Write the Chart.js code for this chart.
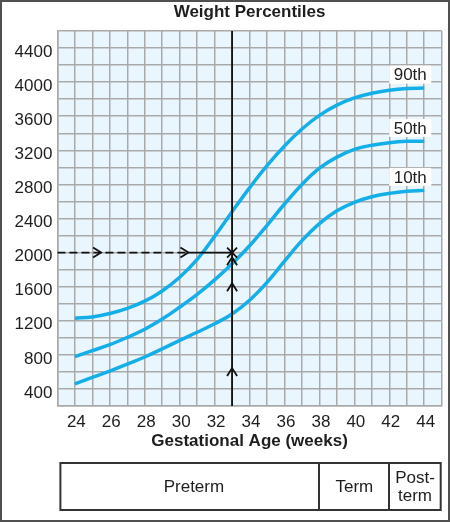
<!DOCTYPE html>
<html>
<head>
<meta charset="utf-8">
<script src="https://cdn.jsdelivr.net/npm/chart.js@4.4.0/dist/chart.umd.min.js"></script>
<style>
  body { margin: 0; background: #fff; }
  #frame { width: 450px; height: 522px; box-sizing: border-box; border: 2px solid #505050; background: #fff; }
  canvas { display: block; }
</style>
</head>
<body>
<div id="frame"><canvas id="weightChart" width="446" height="518"></canvas></div>
<script>
// gestational age (weeks) and weight percentiles (grams)
const weeks = [24, 25, 26, 27, 28, 29, 30, 31, 32, 33, 34, 35, 36, 37, 38, 39, 40, 41, 42, 43, 44];
const p90 = [1230, 1245, 1285, 1345, 1430, 1550, 1710, 1920, 2190, 2480, 2760, 3020, 3250, 3450, 3610, 3730, 3815, 3870, 3905, 3925, 3930];
const p50 = [780, 850, 920, 1005, 1100, 1220, 1360, 1510, 1680, 1870, 2080, 2320, 2570, 2800, 2990, 3120, 3210, 3260, 3290, 3305, 3305];
const p10 = [460, 535, 610, 690, 775, 870, 970, 1065, 1165, 1280, 1440, 1650, 1900, 2140, 2340, 2490, 2590, 2655, 2695, 2720, 2730];
const seriesNames = ['90th', '50th', '10th'];

const yTickLabels = [400, 800, 1200, 1600, 2000, 2400, 2800, 3200, 3600, 4000, 4400];
const xTickLabels = [24, 26, 28, 30, 32, 34, 36, 38, 40, 42, 44];
const yMin = 200, yMax = 4600;
const xMin = 23, xMax = 45;

// example baby: 33 weeks, 2000 g
const babyWeek = 33;
const babyWeight = 2000;
const rightArrowWeeks = [25.5, 30.5];
const upArrowWeights = [1945, 1640, 645];

const termLabels = ['Preterm', 'Term', ['Post-', 'term']];
const termEdges = [23, 38, 42, 45];

const FONT = '"Liberation Sans", Arial, sans-serif';
const BLUE = '#14aee9';
const GRID = '#a9a9a9';
const INK = '#1e1e1e';

function toPoints(values) {
  return weeks.map((w, i) => ({ x: w, y: values[i] }));
}

const extras = {
  id: 'extras',
  beforeDraw(chart) {
    const { ctx, chartArea: a } = chart;
    ctx.save();
    ctx.fillStyle = '#eaf6fd';
    ctx.fillRect(a.left, a.top, a.right - a.left, a.bottom - a.top);
    ctx.restore();
  },
  afterDatasetsDraw(chart) {
    const { ctx } = chart;
    const xs = chart.scales.x, ys = chart.scales.y;

    // percentile labels on white boxes
    ctx.save();
    ctx.font = '17px ' + FONT;
    ctx.textAlign = 'center';
    ctx.textBaseline = 'middle';
    [p90, p50, p10].forEach((vals, i) => {
      const x = xs.getPixelForValue(43.2);
      const y = ys.getPixelForValue(vals[vals.length - 1]) - 13.5;
      const w = ctx.measureText(seriesNames[i]).width + 9;
      ctx.fillStyle = '#fff';
      ctx.fillRect(x - w / 2, y - 9, w, 18);
      ctx.fillStyle = INK;
      ctx.fillText(seriesNames[i], x, y + 1);
    });

    // arrow heads
    ctx.strokeStyle = '#111';
    ctx.lineWidth = 1.8;
    const by = ys.getPixelForValue(babyWeight);
    const bx = xs.getPixelForValue(babyWeek);
    rightArrowWeeks.forEach(w => {
      const x = xs.getPixelForValue(w);
      ctx.beginPath();
      ctx.moveTo(x - 8, by - 5);
      ctx.lineTo(x, by);
      ctx.lineTo(x - 8, by + 5);
      ctx.stroke();
    });
    upArrowWeights.forEach(v => {
      const y = ys.getPixelForValue(v);
      ctx.beginPath();
      ctx.moveTo(bx - 5, y + 8);
      ctx.lineTo(bx, y);
      ctx.lineTo(bx + 5, y + 8);
      ctx.stroke();
    });
    ctx.beginPath();
    ctx.moveTo(bx - 5, by - 5);
    ctx.lineTo(bx + 5, by + 5);
    ctx.moveTo(bx + 5, by - 5);
    ctx.lineTo(bx - 5, by + 5);
    ctx.stroke();
    ctx.restore();
  },
  afterDraw(chart) {
    // Preterm / Term / Post-term box
    const { ctx, chartArea: a } = chart;
    const xs = chart.scales.x;
    const top = a.bottom + 57, bottom = a.bottom + 104;
    const left = xs.getPixelForValue(termEdges[0]) + 3;
    const right = xs.getPixelForValue(termEdges[termEdges.length - 1]) - 1;
    ctx.save();
    ctx.strokeStyle = '#333';
    ctx.lineWidth = 2;
    ctx.strokeRect(left, top, right - left, bottom - top);
    for (let i = 1; i < termEdges.length - 1; i++) {
      const x = Math.round(xs.getPixelForValue(termEdges[i]));
      ctx.beginPath();
      ctx.moveTo(x, top);
      ctx.lineTo(x, bottom);
      ctx.stroke();
    }
    ctx.font = '17px ' + FONT;
    ctx.fillStyle = INK;
    ctx.textAlign = 'center';
    ctx.textBaseline = 'middle';
    termLabels.forEach((label, i) => {
      const x0 = i === 0 ? left : xs.getPixelForValue(termEdges[i]);
      const x1 = i === termLabels.length - 1 ? right : xs.getPixelForValue(termEdges[i + 1]);
      const cx = (x0 + x1) / 2 + (i === 0 ? 4 : 0);
      const cy = (top + bottom) / 2 + 1;
      const lines = Array.isArray(label) ? label : [label];
      lines.forEach((t, j) => {
        ctx.fillText(t, cx, cy + (j - (lines.length - 1) / 2) * 18);
      });
    });
    ctx.restore();
  }
};

const curveStyle = {
  borderColor: BLUE,
  borderWidth: 3.5,
  pointRadius: 0,
  fill: false,
  tension: 0.4
};

new Chart(document.getElementById('weightChart'), {
  type: 'line',
  data: {
    datasets: [
      {
        label: 'age',
        data: [{ x: babyWeek, y: yMin }, { x: babyWeek, y: yMax }],
        borderColor: '#111', borderWidth: 1.8, pointRadius: 0
      },
      {
        label: 'weight (dashed)',
        data: [{ x: xMin, y: babyWeight }, { x: rightArrowWeeks[1], y: babyWeight }],
        borderColor: '#111', borderWidth: 1.8, pointRadius: 0, borderDash: [8, 4]
      },
      {
        label: 'weight',
        data: [{ x: rightArrowWeeks[1], y: babyWeight }, { x: babyWeek, y: babyWeight }],
        borderColor: '#111', borderWidth: 1.8, pointRadius: 0
      },
      { label: '90th', data: toPoints(p90), ...curveStyle },
      { label: '50th', data: toPoints(p50), ...curveStyle },
      { label: '10th', data: toPoints(p10), ...curveStyle }
    ]
  },
  options: {
    responsive: false,
    animation: false,
    layout: { padding: { top: 0, left: 0, right: 3.7, bottom: 0 } },
    plugins: {
      legend: { display: false },
      tooltip: { enabled: false },
      title: {
        display: true,
        text: 'Weight Percentiles',
        fullSize: false,
        color: INK,
        font: { family: FONT, size: 17, weight: 'bold' },
        padding: { top: 0.5, bottom: 8.1 }
      }
    },
    scales: {
      x: {
        type: 'linear',
        min: xMin,
        max: xMax,
        afterFit: s => { s.height = 114; },
        grid: { color: GRID, lineWidth: 1.5, drawTicks: false },
        border: { display: true, color: GRID, width: 1.5 },
        ticks: {
          stepSize: 1,
          autoSkip: false,
          maxRotation: 0,
          padding: 6.3,
          labelOffset: 1.5,
          color: INK,
          font: { family: FONT, size: 17 },
          callback: v => xTickLabels.includes(v) ? String(v) : ''
        },
        title: {
          display: true,
          text: 'Gestational Age (weeks)',
          color: INK,
          font: { family: FONT, size: 17, weight: 'bold' },
          padding: { top: 0, bottom: 68.8 }
        }
      },
      y: {
        min: yMin,
        max: yMax,
        afterFit: s => { s.width = 55.4; },
        grid: { color: GRID, lineWidth: 1.5, drawTicks: false },
        border: { display: true, color: GRID, width: 1.5 },
        ticks: {
          stepSize: 200,
          autoSkip: false,
          padding: 5,
          labelOffset: 4,
          color: INK,
          font: { family: FONT, size: 17 },
          callback: v => yTickLabels.includes(v) ? String(v) : ''
        }
      }
    }
  },
  plugins: [extras]
});
</script>
</body>
</html>
